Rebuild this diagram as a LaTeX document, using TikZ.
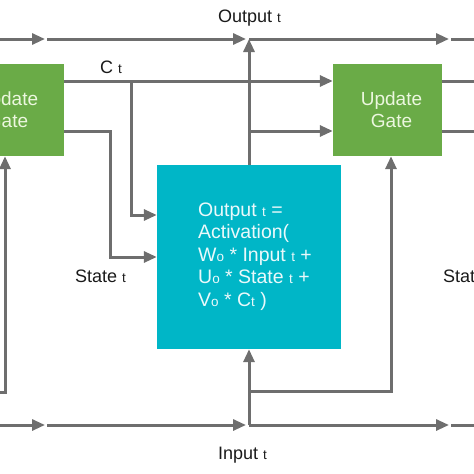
\documentclass[tikz,border=0pt]{standalone}
\usepackage{fontspec}
\setmainfont{Liberation Sans}
\usetikzlibrary{arrows.meta}
\definecolor{lgray}{HTML}{6E6E6E}
\definecolor{gfill}{HTML}{6AAB47}
\definecolor{tfill}{HTML}{00B6C7}
\definecolor{gtext}{HTML}{ECF7DF}
\definecolor{ttext}{HTML}{EAF9FB}
\definecolor{dtext}{HTML}{1A1A1A}
\newcommand\sm[1]{{\fontsize{13.5}{14}\selectfont #1}}
\tikzset{
  ln/.style={draw=lgray, line width=3pt},
  arr/.style={ln, -{Triangle[length=13pt,width=11pt]}},
  gbox/.style={fill=gfill, draw=none, minimum width=109pt, minimum height=92pt, inner sep=0pt,
    text=gtext, align=center, font=\fontsize{19}{22}\selectfont},
  tbox/.style={fill=tfill, draw=none, minimum width=184pt, minimum height=184pt, inner sep=0pt},
  tline/.style={anchor=base west, text=ttext, inner sep=0pt, font=\fontsize{19.5}{22}\selectfont},
  lbl/.style={anchor=base west, text=dtext, inner sep=0pt, font=\fontsize{18}{20}\selectfont}
}
\begin{document}
\begin{tikzpicture}[x=1pt,y=-1pt]
\useasboundingbox (0,0) rectangle (474,474);
% boxes
\node[gbox] (g1) at (9.5,110) {\hspace*{-4pt}Update\\\hspace*{-4pt}Gate};
\node[gbox] (g2) at (387.5,110) {\hspace*{8pt}Update\\\hspace*{8pt}Gate};
\node[tbox] (tb) at (249,257) {};
% text in teal box
\node[tline] (e1) at (198,216) {Output \sm{t} =};
\node[tline] (e2) at (198,238.5) {Activation(};
\node[tline] (e3) at (198,261) {W\sm{o} * Input \sm{t} +};
\node[tline] (e4) at (198,283.5) {U\sm{o} * State \sm{t} +};
\node[tline] (e5) at (198,306) {V\sm{o} * C\sm{t} )};
% labels
\node[lbl] (lo) at (218,22) {Output \sm{t}};
\node[lbl] (li) at (218,459) {Input \sm{t}};
\node[lbl] (ls1) at (75,282) {State \sm{t}};
\node[lbl] (ls2) at (443,282) {State \sm{t}};
\node[lbl] (lc) at (100,73) {C \sm{t}};
% coordinates
\coordinate (tL) at (-20,39); \coordinate (t1) at (45,39); \coordinate (t1b) at (47,39);
\coordinate (t2) at (246,39); \coordinate (t3) at (249,39); \coordinate (t4) at (449,39);
\coordinate (t4b) at (451,39); \coordinate (tR) at (490,39);
\coordinate (bL) at (-20,425); \coordinate (b1) at (45,425); \coordinate (b1b) at (47,425);
\coordinate (b2) at (246,425); \coordinate (b3) at (249,425); \coordinate (b4) at (449,425);
\coordinate (b4b) at (451,425); \coordinate (bR) at (490,425);
\coordinate (c0) at (64,81); \coordinate (c1) at (131,81); \coordinate (c2) at (131,215);
\coordinate (s0) at (64,131); \coordinate (s1) at (110,131); \coordinate (s2) at (110,257);
\coordinate (r0) at (249,131);
\coordinate (o1) at (490,81); \coordinate (o2) at (490,131);
\coordinate (u0) at (249,391); \coordinate (u1) at (391,391);
\coordinate (l0) at (-20,392); \coordinate (l1) at (5,392);
% top line
\draw[arr] (tL) -- (t1);
\draw[arr] (t1b) -- (t2);
\draw[arr] (t3) -- (t4);
\draw[ln] (t4b) -- (tR);
% bottom line
\draw[arr] (bL) -- (b1);
\draw[arr] (b1b) -- (b2);
\draw[arr] (b3) -- (b4);
\draw[ln] (b4b) -- (bR);
% teal box in/out
\draw[arr] (tb.north) -- (t3);
\draw[arr] (b3) -- (tb.south);
% C_t line
\draw[arr] (c0) -- (g2.west |- c0);
\draw[arr] (c1) -- (c2) -- (tb.west |- c2);
% state line
\draw[arr] (s0) -- (s1) -- (s2) -- (tb.west |- s2);
% output branch to update gate
\draw[arr] (r0) -- (g2.west |- r0);
% right outputs
\draw[ln] (g2.east |- c0) -- (o1);
\draw[ln] (g2.east |- r0) -- (o2);
% input branch to update gate
\draw[arr] (u0) -- (u1) -- (g2.south -| u1);
% left feed
\draw[arr] (l0) -- (l1) -- (g1.south -| l1);
\end{tikzpicture}
\end{document}
